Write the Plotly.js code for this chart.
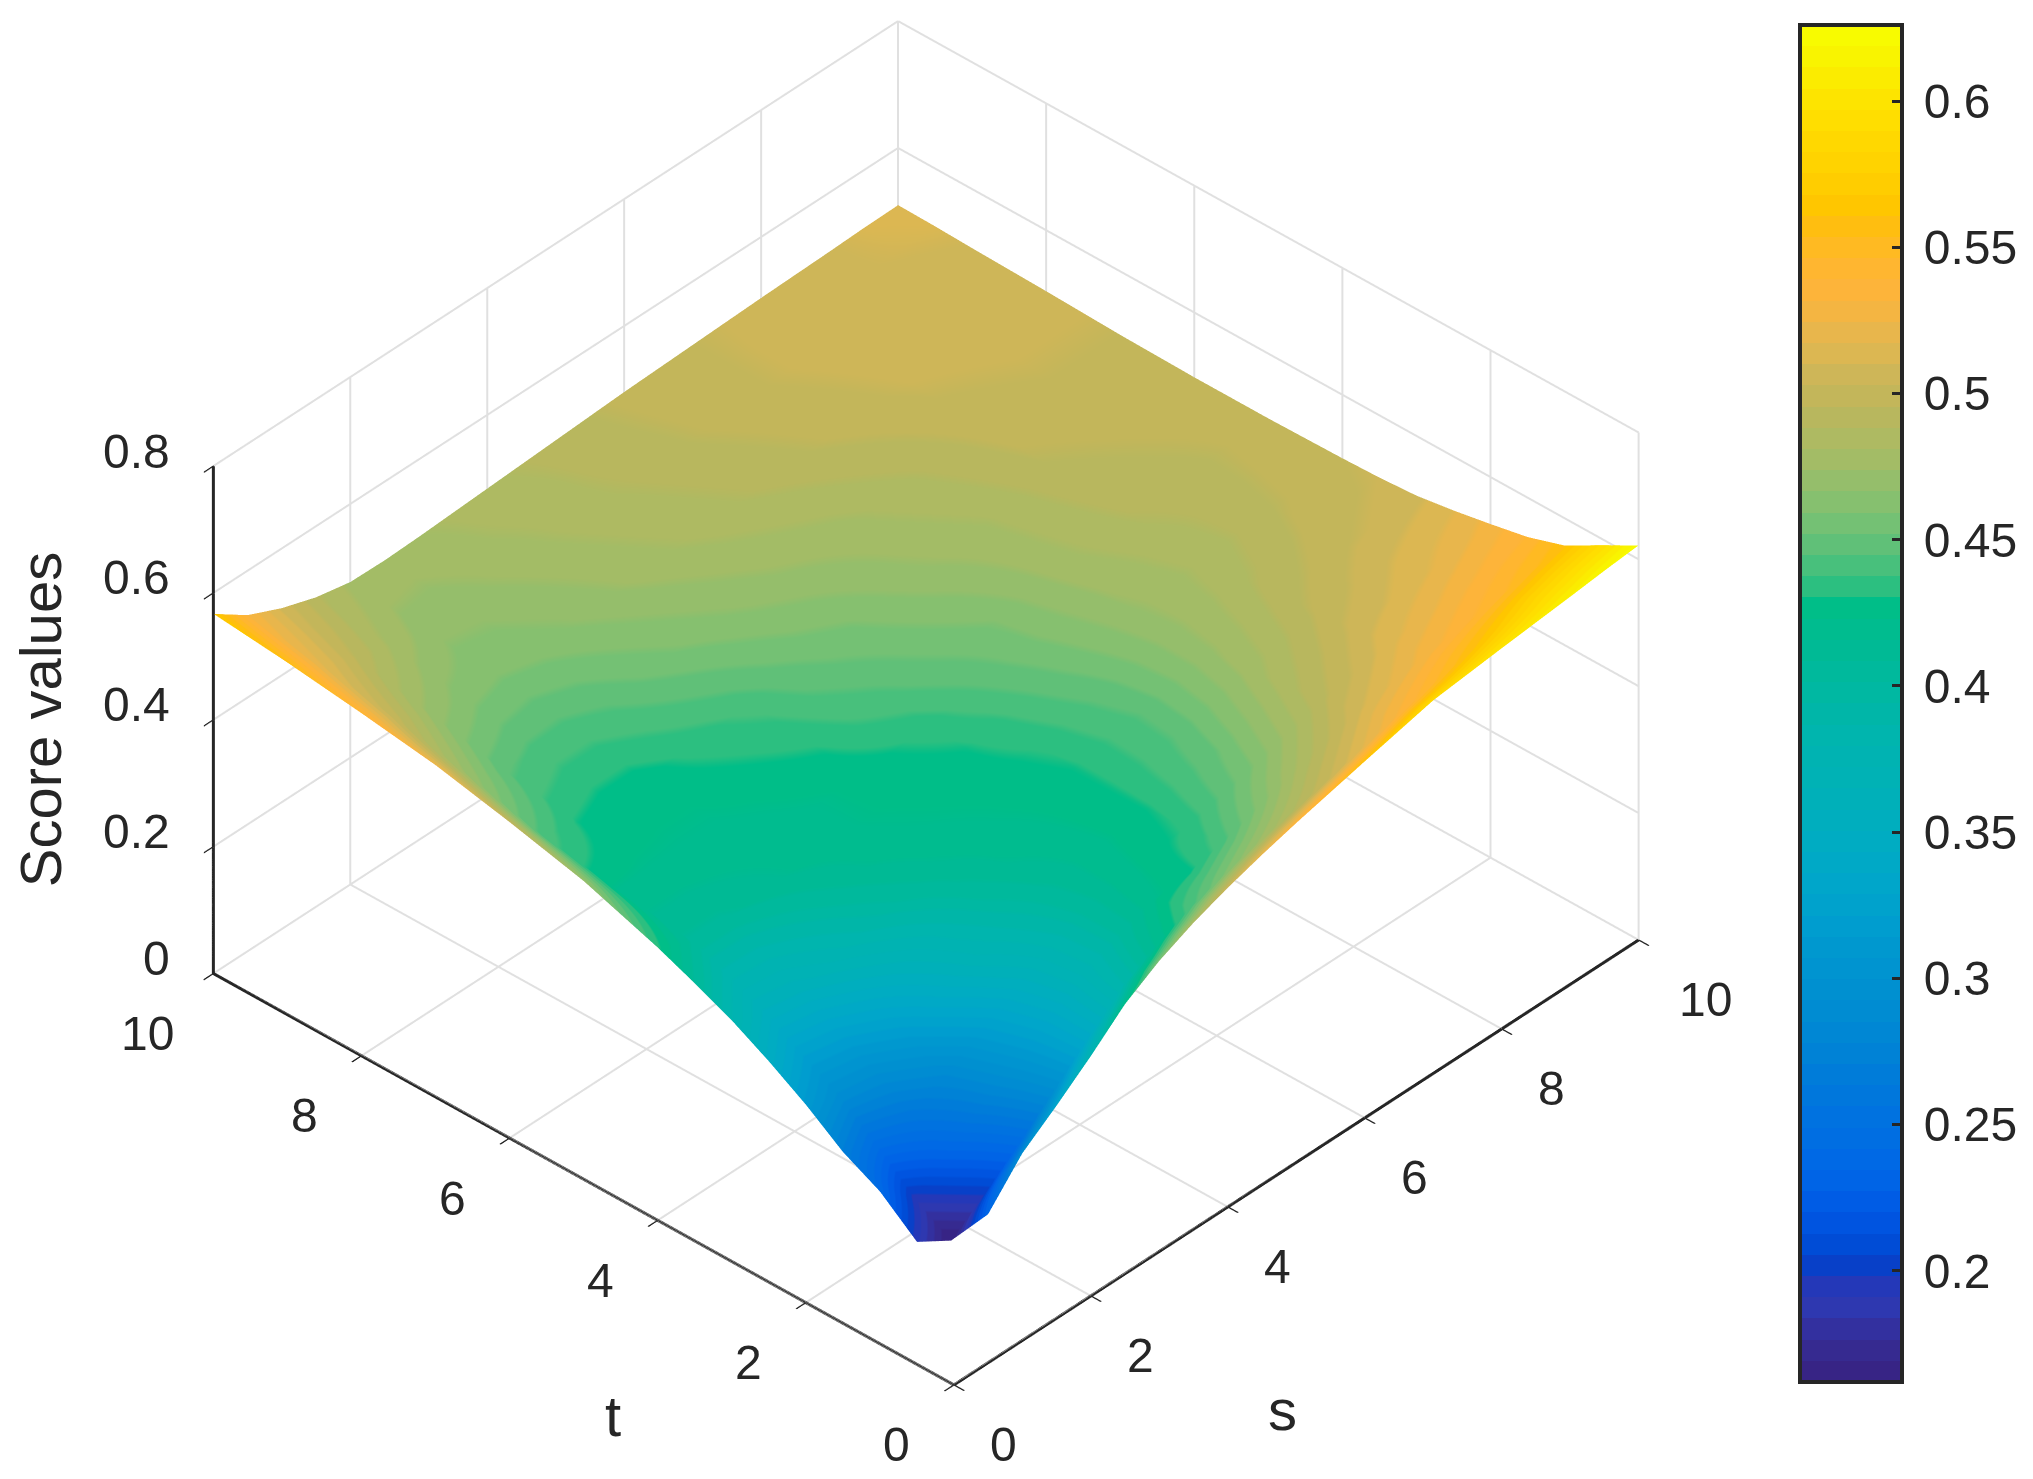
<!DOCTYPE html>
<html>
<head>
<meta charset="utf-8">
<script src="https://cdn.plot.ly/plotly-3.0.1.min.js"></script>
<style>html,body{margin:0;padding:0;background:#fff}</style>
</head>
<body>
<div id="chart" style="width:2033px;height:1479px"></div>
<script>
var sValues = [0, 0.5, 1, 1.5, 2, 2.5, 3, 3.5, 4, 4.5, 5, 6, 7, 8, 9, 9.5, 10];
var tValues = [0, 0.5, 1, 1.5, 2, 2.5, 3, 3.5, 4, 4.5, 5, 6, 7, 8, 9, 9.5, 10];

// one row per t, one column per s, (0,0) has no score
var scores = [
  [null, .234, .295, .335, .378, .425, .458, .483, .503, .52, .535, .562, .588, .60, .611, .617, .622],
  [.193, .16, .20, .245, .292, .34, .385, .415, .44, .458, .473, .50, .53, .555, .578, .585, .59],
  [.24, .195, .235, .27, .305, .34, .375, .40, .42, .426, .44, .477, .507, .527, .542, .55, .557],
  [.27, .245, .262, .285, .318, .35, .378, .40, .416, .425, .43, .458, .492, .513, .527, .533, .538],
  [.312, .29, .295, .315, .345, .372, .39, .405, .415, .422, .428, .45, .483, .503, .514, .52, .526],
  [.348, .322, .328, .345, .365, .385, .402, .413, .418, .423, .428, .445, .475, .495, .507, .511, .515],
  [.38, .355, .36, .375, .39, .402, .412, .418, .421, .424, .428, .444, .471, .49, .50, .503, .506],
  [.406, .382, .383, .393, .404, .413, .419, .421, .423, .426, .43, .447, .47, .485, .496, .499, .502],
  [.43, .405, .405, .41, .415, .418, .421, .423, .425, .428, .434, .452, .471, .482, .493, .497, .50],
  [.45, .413, .413, .415, .417, .419, .421, .424, .428, .432, .44, .456, .473, .484, .492, .496, .499],
  [.47, .42, .42, .42, .42, .422, .425, .428, .435, .44, .447, .458, .476, .487, .492, .495, .498],
  [.498, .44, .428, .425, .425, .43, .434, .439, .447, .453, .457, .47, .479, .492, .496, .497, .498],
  [.523, .47, .445, .44, .44, .444, .451, .457, .462, .467, .471, .477, .486, .497, .50, .50, .50],
  [.54, .497, .47, .461, .458, .46, .464, .469, .474, .478, .482, .489, .496, .502, .504, .504, .504],
  [.555, .516, .493, .478, .468, .468, .472, .476, .48, .484, .487, .494, .50, .505, .506, .506, .507],
  [.561, .523, .50, .483, .473, .472, .475, .479, .482, .485, .489, .495, .50, .505, .507, .508, .509],
  [.567, .53, .506, .488, .477, .476, .478, .481, .484, .487, .49, .496, .50, .504, .507, .509, .51]
];

var axisTicks = [0, 2, 4, 6, 8, 10];
var zTicks = [0, 0.2, 0.4, 0.6, 0.8];
var zTickText = ['0', '0.2', '0.4', '0.6', '0.8'];
var barTicks = [0.2, 0.25, 0.3, 0.35, 0.4, 0.45, 0.5, 0.55, 0.6];
var barTickText = ['\u20090.2', '\u20090.25', '\u20090.3', '\u20090.35', '\u20090.4', '\u20090.45', '\u20090.5', '\u20090.55', '\u20090.6'];
var sMax = 10, tMax = 10, zMax = 0.8;

// the 64 colour bands of the bar, bottom to top
var bands = [
  '#372485','#362a90','#33309f','#2e38b0','#2438b8','#0840c8','#004cd6','#0054e0',
  '#005ce5','#0064e6','#0069e5','#006ee2','#0072e0','#0077dc','#007cd9','#0082d6',
  '#0087d4','#008cd2','#0090d0','#0094d0','#0098cf','#009dcf','#00a2cc','#00a6ca',
  '#00a9c6','#00acc2','#00aebe','#00b0b9','#00b2b5','#00b3b2','#00b5ae','#00b6a8',
  '#00b8a2','#00b99c','#00ba95','#00bc8f','#00be88','#2cbf80','#48c07c','#60c078',
  '#74c174','#86c06f','#95be6b','#a3bc66','#aeba62','#b8b75e','#c3b65a','#ceb658',
  '#dcb752','#e8b64c','#f4b542','#fdb43a','#ffb630','#ffba22','#ffbe10','#ffc600',
  '#ffcd00','#ffd300','#ffd800','#ffde00','#fde400','#fbec00','#f9f400','#f8fb00'
];

var scale = [];
for (var i = 0; i < bands.length; i++) {
  scale.push([i / bands.length, bands[i]]);
  scale.push([(i + 1) / bands.length, bands[i]]);
}

var inkColor = '#262626';
var fontName = 'Liberation Sans, Arial, sans-serif';
var tickFont = {family: fontName, size: 48, color: inkColor};
var titleFont = {family: fontName, size: 58, color: inkColor};

function axis(range, tickvals) {
  return {
    title: {text: ''},
    range: range,
    autorange: false,
    tickmode: 'array',
    tickvals: tickvals,
    showticklabels: false,
    showgrid: false,
    zeroline: false,
    showline: true,
    linecolor: inkColor,
    linewidth: 3,
    ticks: 'outside',
    ticklen: 14,
    tickwidth: 3,
    tickcolor: inkColor,
    showbackground: false,
    showspikes: false
  };
}

// 3d tick labels come out huge and turned, so the labels go on as scene annotations
function label(x, y, z, text, font, xshift, yshift, extra) {
  var a = {x: x, y: y, z: z, text: text, showarrow: false, font: font, xshift: xshift, yshift: yshift};
  for (var k in extra) a[k] = extra[k];
  return a;
}

var notes = [];
axisTicks.forEach(function (v) {
  notes.push(label(v, 0, 0, String(v), tickFont, v == 10 ? 67 : 50, -60));
  notes.push(label(0, v, 0, String(v), tickFont, v == 10 ? -66 : -57, -60));
});
zTicks.forEach(function (v, n) {
  notes.push(label(0, 10, v, zTickText[n], tickFont, -41, 15, {xanchor: 'right'}));
});
notes.push(label(5, 0, 0, 's', titleFont, -14, -247));
notes.push(label(0, 5, 0, 't', titleFont, 29, -236));
notes.push(label(0, 10, 0.4, 'Score values', titleFont, -173, 0, {textangle: -90}));

// gl grid lines stay 1px wide, scatter3d lines can be thicker
function lineTrace(segments, color, width) {
  var xs = [], ys = [], zs = [];
  segments.forEach(function (p) {
    xs.push(p[0], p[3], null);
    ys.push(p[1], p[4], null);
    zs.push(p[2], p[5], null);
  });
  return {
    type: 'scatter3d', mode: 'lines', x: xs, y: ys, z: zs,
    line: {color: color, width: width}, hoverinfo: 'skip', showlegend: false
  };
}

var gridLines = [];
axisTicks.forEach(function (v) {
  gridLines.push([v, 0, 0, v, tMax, 0]);
  gridLines.push([0, v, 0, sMax, v, 0]);
  gridLines.push([sMax, v, 0, sMax, v, zMax]);
  gridLines.push([v, tMax, 0, v, tMax, zMax]);
});
zTicks.forEach(function (v) {
  gridLines.push([sMax, 0, v, sMax, tMax, v]);
  gridLines.push([0, tMax, v, sMax, tMax, v]);
});
var axisLines = [
  [0, 0, 0, sMax, 0, 0],
  [0, 0, 0, 0, tMax, 0],
  [0, tMax, 0, 0, tMax, zMax]
];

var surface = {
  type: 'surface',
  x: sValues,
  y: tValues,
  z: scores,
  cmin: 0.162,
  cmax: 0.626,
  colorscale: scale,
  hoverinfo: 'skip',
  lighting: {ambient: 1, diffuse: 0, specular: 0, roughness: 1, fresnel: 0},
  colorbar: {
    lenmode: 'pixels',
    len: 1357,
    thicknessmode: 'pixels',
    thickness: 102,
    x: 1800 / 2033,
    xanchor: 'left',
    xpad: 0,
    y: 97 / 1479,
    yanchor: 'bottom',
    ypad: 0,
    outlinecolor: inkColor,
    outlinewidth: 4,
    tickmode: 'array',
    tickvals: barTicks,
    ticktext: barTickText,
    ticks: 'inside',
    ticklen: 12,
    tickwidth: 3,
    tickcolor: inkColor,
    tickfont: tickFont
  }
};

var layout = {
  width: 2033,
  height: 1479,
  margin: {l: 0, r: 0, t: 0, b: 0},
  paper_bgcolor: '#fff',
  showlegend: false,
  scene: {
    domain: {x: [0, 1852 / 2033], y: [73 / 1479, 1]},
    aspectmode: 'manual',
    aspectratio: {x: 1.4347, y: 1.4347, z: 0.903},
    camera: {
      projection: {type: 'orthographic'},
      up: {x: 0, y: 0, z: 1},
      center: {x: 0, y: 0, z: 0},
      eye: {x: -0.676, y: -0.625, z: 0.692}
    },
    xaxis: axis([0, sMax], axisTicks),
    yaxis: axis([0, tMax], axisTicks),
    zaxis: axis([0, zMax], zTicks),
    annotations: notes
  }
};

Plotly.newPlot('chart', [
  lineTrace(gridLines, '#e0e0e0', 4),
  surface,
  lineTrace(axisLines, inkColor, 6)
], layout, {displayModeBar: false});
</script>
</body>
</html>
